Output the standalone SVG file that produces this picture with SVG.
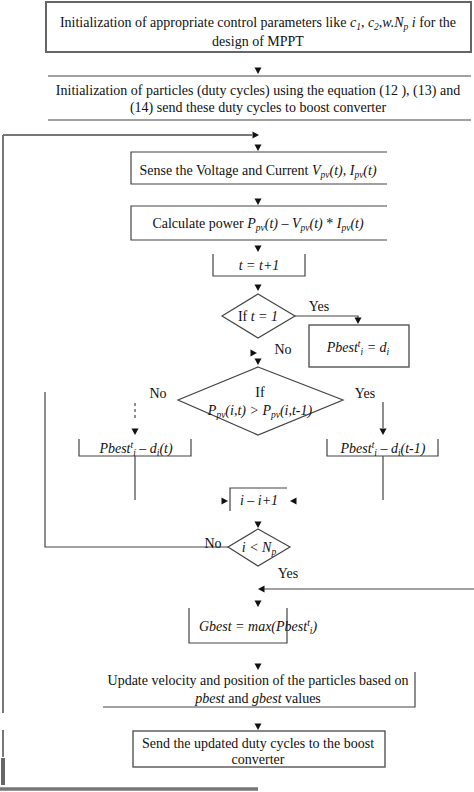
<svg xmlns="http://www.w3.org/2000/svg" xmlns:xlink="http://www.w3.org/1999/xlink" width="474" height="792" viewBox="0 0 474 792">
<style>
text{font-family:"Liberation Serif","Times New Roman",serif;font-size:14px;fill:#111;text-anchor:middle}
.i{font-style:italic}
.s{font-size:9.5px}
.ln{stroke:#444;stroke-width:1.2;fill:none}
.bx{stroke:#555;stroke-width:1.4;fill:#fff}
.g{stroke:#777;stroke-width:2;fill:none}
</style>
<defs>
<path id="ad" d="M-3.5,-3.5 L3.5,-3.5 L0,3 Z" fill="#111"/>
<path id="ar" d="M-3.5,-3.5 L3,0 L-3.5,3.5 Z" fill="#111"/>
<path id="al" d="M3.5,-3.5 L-3,0 L3.5,3.5 Z" fill="#111"/>
</defs>
<rect width="474" height="792" fill="#fff"/>

<g id="connectors">
<path class="g" d="M3,135 H252"/>
<path class="g" d="M3,135 V713"/>
<path class="g" d="M3,730 V757"/>
<path d="M3,758 V785" stroke="#666" stroke-width="4"/>
<path d="M0,789 H258" stroke="#777" stroke-width="3.5"/>
<use href="#ar" x="256" y="135"/>
<use href="#ad" x="258" y="71"/>
<use href="#ad" x="258" y="148"/>
<use href="#ad" x="258" y="202"/>
<use href="#ad" x="258" y="249"/>
<use href="#ad" x="258" y="288"/>
<path class="ln" d="M295,316 H358 V319"/>
<use href="#ad" x="358" y="321"/>
<use href="#ar" x="254" y="353"/>
<use href="#ad" x="258" y="362"/>
<path class="ln" d="M135,403 V421" stroke-dasharray="3,3"/>
<use href="#ad" x="135" y="432"/>
<path class="ln" d="M383,402 V428"/>
<use href="#ad" x="383" y="432"/>
<path class="ln" d="M135,456 V500"/>
<path class="ln" d="M383,456 V500"/>
<use href="#ar" x="225" y="501"/>
<use href="#al" x="293" y="501"/>
<use href="#ad" x="258" y="525"/>
<path class="ln" d="M45,392 V547 H228"/>
<path class="ln" d="M474,589 H262"/>
<use href="#al" x="261" y="589"/>
<use href="#ad" x="258" y="604"/>
<use href="#ad" x="258" y="667"/>
<use href="#ad" x="258" y="727"/>
<path class="ln" d="M258,760 V767"/>
</g>

<g id="init-params">
<rect x="46" y="2" width="425" height="50" fill="#fff" stroke="#666" stroke-width="2"/>
<text x="258" y="27">Initialization of appropriate control parameters like <tspan class="i">c</tspan><tspan class="i s" dy="3">1</tspan><tspan dy="-3">, </tspan><tspan class="i">c</tspan><tspan class="i s" dy="3">2</tspan><tspan dy="-3">,</tspan><tspan class="i">w.N</tspan><tspan class="i s" dy="3">p</tspan><tspan dy="-3"> </tspan><tspan class="i">i</tspan> for the</text>
<text x="258" y="46">design of MPPT</text>
</g>

<g id="init-particles">
<path class="ln" d="M48,76 H471 M48,120 H471"/>
<text x="258" y="95">Initialization of particles (duty cycles) using the equation (12 ), (13) and</text>
<text x="258" y="112">(14) send these duty cycles to boost converter</text>
</g>

<g id="sense">
<path class="ln" d="M387,152 H131 V184 H387"/>
<text x="258" y="175">Sense the Voltage and Current <tspan class="i">V</tspan><tspan class="i s" dy="3">pv</tspan><tspan class="i" dy="-3">(t), I</tspan><tspan class="i s" dy="3">pv</tspan><tspan class="i" dy="-3">(t)</tspan></text>
</g>

<g id="calculate">
<path class="ln" d="M387,206 H131 V240 H387"/>
<text x="258" y="228">Calculate power <tspan class="i">P</tspan><tspan class="i s" dy="3">pv</tspan><tspan class="i" dy="-3">(t)</tspan> –  <tspan class="i">V</tspan><tspan class="i s" dy="3">pv</tspan><tspan class="i" dy="-3">(t)</tspan> * <tspan class="i">I</tspan><tspan class="i s" dy="3">pv</tspan><tspan class="i" dy="-3">(t)</tspan></text>
</g>

<g id="increment-t">
<path class="ln" d="M213,254 V276 H305 V254"/>
<text x="259" y="270" class="i">t = t+1</text>
</g>

<g id="if-t1">
<path class="ln" d="M258,294 L295,316 L258,338 L222,316 Z" fill="#fff"/>
<text x="258" y="321">If <tspan class="i">t = 1</tspan></text>
<text x="319" y="311">Yes</text>
</g>

<g id="pbest-init">
<rect class="bx" x="309" y="325" width="100" height="42"/>
<text x="358" y="352" class="i">Pbest<tspan class="s" dy="-5">t</tspan><tspan class="s" dy="8">i</tspan><tspan dy="-3"> = d</tspan><tspan class="s" dy="3">i</tspan></text>
<text x="283" y="354">No</text>
</g>

<g id="if-power">
<path class="ln" d="M258,367 L343,400 L258,435 L178,400 Z" fill="#fff"/>
<text x="260" y="397">If</text>
<text x="260" y="415" class="i">P<tspan class="s" dy="3">pv</tspan><tspan dy="-3">(i,t) &gt; P</tspan><tspan class="s" dy="3">pv</tspan><tspan dy="-3">(i,t-1)</tspan></text>
<text x="158" y="398">No</text>
<text x="365" y="398">Yes</text>
</g>

<g id="pbest-left">
<path class="ln" d="M79,439 V456 H191 V439"/>
<text x="136" y="453" class="i">Pbest<tspan class="s" dy="-5">t</tspan><tspan class="s" dy="8">i</tspan><tspan dy="-3"> – d</tspan><tspan class="s" dy="3">i</tspan><tspan dy="-3">(t)</tspan></text>
</g>

<g id="pbest-right">
<path class="ln" d="M327,439 V456 H438 V439"/>
<text x="383" y="453" class="i">Pbest<tspan class="s" dy="-5">t</tspan><tspan class="s" dy="8">i</tspan><tspan dy="-3"> – d</tspan><tspan class="s" dy="3">i</tspan><tspan dy="-3">(t-1)</tspan></text>
</g>

<g id="increment-i">
<path class="ln" d="M230,511 V488 H287"/>
<text x="259" y="505" class="i">i – i+1</text>
</g>

<g id="if-np">
<path class="ln" d="M258,529 L290,547 L258,566 L228,547 Z" fill="#fff"/>
<text x="259" y="552" class="i">i &lt; N<tspan class="s" dy="3">p</tspan></text>
<text x="213" y="548">No</text>
<text x="288" y="578">Yes</text>
</g>

<g id="gbest">
<path class="ln" d="M189,608 V643 H287 V608"/>
<text x="258" y="631" class="i">Gbest = max(Pbest<tspan class="s" dy="-5">t</tspan><tspan class="s" dy="8">i</tspan><tspan dy="-3">)</tspan></text>
</g>

<g id="update">
<path class="ln" d="M103,707 H415 V672"/>
<text x="258" y="685">Update velocity and position of the particles based on</text>
<text x="258" y="703"><tspan class="i">pbest</tspan> and <tspan class="i">gbest</tspan> values</text>
</g>

<g id="send">
<rect class="bx" x="133" y="731" width="252" height="36" fill="none"/>
<text x="258" y="748">Send the updated duty cycles to the  boost</text>
<text x="258" y="764">converter</text>
</g>
</svg>
